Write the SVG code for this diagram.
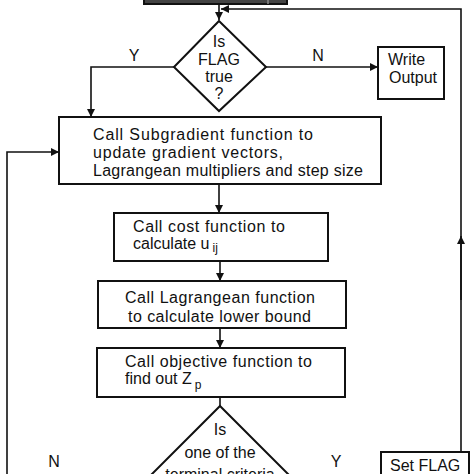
<svg xmlns="http://www.w3.org/2000/svg" width="474" height="474" viewBox="0 0 474 474">
<style>
text{font-family:"Liberation Sans",Arial,sans-serif;font-size:16px;fill:#111}
.c{text-anchor:middle}
.sub{font-size:12px}
.box{fill:#fff;stroke:#111;stroke-width:2}
.ln{fill:none;stroke:#111;stroke-width:1.6}
</style>
<defs>
<marker id="ah" viewBox="0 0 10 10" refX="10" refY="5" markerWidth="8" markerHeight="8" markerUnits="userSpaceOnUse" orient="auto">
<path d="M0,0 L10,5 L0,10 z" fill="#111"/>
</marker>
</defs>
<rect width="474" height="474" fill="#fff"/>

<g id="connectors">
<path class="ln" d="M219,4 V20" marker-end="url(#ah)"/>
<path class="ln" d="M461,452 V9 H221" marker-end="url(#ah)"/>
<path class="ln" d="M461,300 V236" marker-end="url(#ah)"/>
<path class="ln" d="M174,67 H91 V117" marker-end="url(#ah)"/>
<path class="ln" d="M266,67 H378" marker-end="url(#ah)"/>
<path class="ln" d="M7,480 V152 H59" marker-end="url(#ah)"/>
<path class="ln" d="M219,184 V213" marker-end="url(#ah)"/>
<path class="ln" d="M220,261 V281" marker-end="url(#ah)"/>
<path class="ln" d="M220,328 V348" marker-end="url(#ah)"/>
<path class="ln" d="M220,397 V406"/>
<text x="134" y="61" class="c">Y</text>
<text x="318" y="61" class="c">N</text>
<text x="54" y="467" class="c">N</text>
<text x="336" y="467" class="c">Y</text>
</g>

<g id="start">
<rect x="144" y="-20" width="143" height="24" fill="#444" stroke="#111" stroke-width="2"/>
<line x1="268" y1="-2" x2="268" y2="4" stroke="#888" stroke-width="1.5"/>
</g>

<g id="flag-decision">
<polygon class="box" points="219,21 266,67 219,111 174,67"/>
<text x="219" y="47" class="c">Is</text>
<text x="219" y="65" class="c">FLAG</text>
<text x="219" y="82" class="c">true</text>
<text x="219" y="99" class="c">?</text>
</g>

<g id="write-output">
<rect class="box" x="378" y="47" width="66" height="52"/>
<text x="388" y="65">Write</text>
<text x="389" y="83">Output</text>
</g>

<g id="subgradient">
<rect class="box" x="59" y="117" width="322" height="67"/>
<text x="93" y="140" textLength="220">Call Subgradient function to</text>
<text x="93" y="158" textLength="190">update gradient vectors,</text>
<text x="93" y="176" textLength="270">Lagrangean multipliers and step size</text>
</g>

<g id="cost">
<rect class="box" x="114" y="213" width="214" height="48"/>
<text x="133" y="232" textLength="152">Call cost function to</text>
<text x="133" y="249">calculate  u<tspan class="sub" dx="3" dy="3">ij</tspan></text>
</g>

<g id="lagrangean">
<rect class="box" x="98" y="281" width="248" height="47"/>
<text x="125" y="303" textLength="190">Call Lagrangean  function</text>
<text x="128" y="322" textLength="183">to calculate lower bound</text>
</g>

<g id="objective">
<rect class="box" x="97" y="348" width="248" height="49"/>
<text x="125" y="367" textLength="187">Call objective  function to</text>
<text x="125" y="384">find  out  Z<tspan class="sub" dx="3" dy="5">p</tspan></text>
</g>

<g id="terminal-decision">
<polygon class="box" points="220,406 330,516 220,626 110,516"/>
<text x="220" y="435" class="c">Is</text>
<text x="220" y="458" class="c">one of the</text>
<text x="220" y="480" class="c">terminal criteria</text>
</g>

<g id="set-flag">
<rect class="box" x="381" y="452" width="88" height="40"/>
<text x="390" y="471">Set FLAG</text>
</g>
</svg>
